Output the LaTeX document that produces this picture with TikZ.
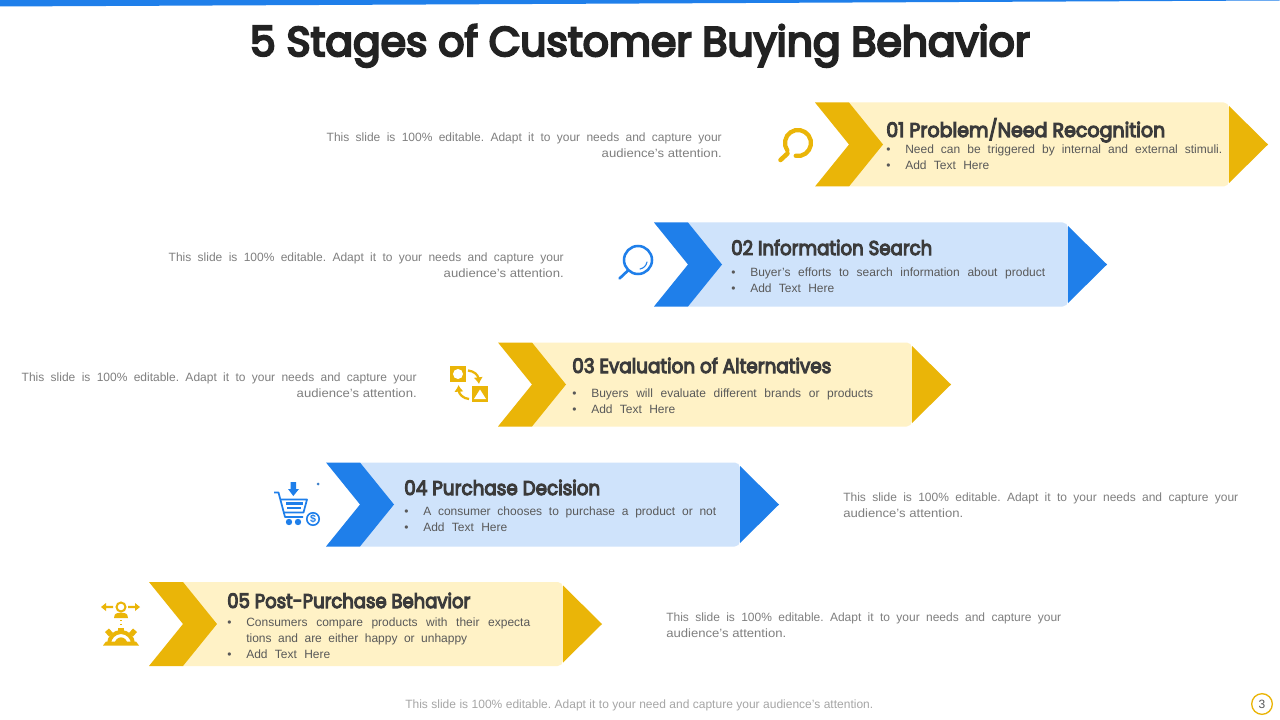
\documentclass[tikz,border=0pt]{standalone}
\usepackage{fontspec}
\usepackage{graphicx}
\setmainfont{Liberation Sans}
\newfontfamily\headfont[FakeBold=5.5]{Poppins}
\usetikzlibrary{arrows.meta}
\definecolor{ybr}{HTML}{EAB508}
\definecolor{ylt}{HTML}{FFF2C6}
\definecolor{bbr}{HTML}{1F7FEA}
\definecolor{blt}{HTML}{CFE3FB}
\definecolor{bodyc}{HTML}{595959}
\definecolor{sidec}{HTML}{7F7F7F}
\definecolor{headc}{HTML}{3B3B3B}
\definecolor{titlec}{HTML}{222222}
\definecolor{footc}{HTML}{A6A6A6}
\frenchspacing
\newcommand\jl[2]{\makebox[\dimexpr #1pt*3/4\relax][s]{#2}}
\newcommand\fitw[2]{\resizebox{\dimexpr #1pt*3/4\relax}{\height}{#2}}
\newcommand\stagebox[5]{% x0, top, rect right, strong, light
  \fill[#5] (#1+34,#2) [rounded corners=4] -- (#3,#2) -- (#3,#2+84) [sharp corners] -- (#1+34,#2+84) -- cycle;
  \fill[#4] (#1,#2) -- (#1+34,#2) -- (#1+68,#2+42) -- (#1+34,#2+84) -- (#1,#2+84) -- (#1+34,#2+42) -- cycle;
  \fill[#4] (#3,#2+3.5) -- (#3+39,#2+42) -- (#3,#2+80.5) -- cycle;
}
\tikzset{
  x=0.75pt,y=-0.75pt,
  headtxt/.style={anchor=base west,inner sep=0pt,text=headc,font=\headfont\fontsize{15}{18}\selectfont},
  bodytxt/.style={anchor=base west,inner sep=0pt,text=bodyc,font=\fontsize{9}{11}\selectfont},
  sidetxt/.style={inner sep=0pt,text=sidec,font=\fontsize{9}{11}\selectfont},
}
\begin{document}
\begin{tikzpicture}
\useasboundingbox (0,0) rectangle (1280,720);
\fill[white] (0,0) rectangle (1280,720);
\fill[bbr] (0,0) -- (1280,0) -- (1280,0.5) -- (0,6.5) -- cycle;
\node[anchor=base,inner sep=0pt,text=titlec,font=\headfont\fontsize{31}{36}\selectfont] (title) at (640,56) {\fitw{780}{5 Stages of Customer Buying Behavior}};

\stagebox{815}{102.5}{1229}{ybr}{ylt}
\stagebox{654}{222.5}{1068}{bbr}{blt}
\stagebox{498}{342.5}{912}{ybr}{ylt}
\stagebox{326}{462.5}{740}{bbr}{blt}
\stagebox{149}{582}{563}{ybr}{ylt}

% stage 1
\node[headtxt] (h1) at (886,137) {\fitw{279}{01 Problem/Need Recognition}};
\node[bodytxt] (b1a) at (886,154) {•};
\node[bodytxt] (t1a) at (905,154) {\jl{317}{Need can be triggered by internal and external stimuli.}};
\node[bodytxt] (b1b) at (886,170) {•};
\node[bodytxt] (t1b) at (905,170) {\jl{84}{Add Text Here}};
% stage 2
\node[headtxt] (h2) at (731,255) {\fitw{201}{02 Information Search}};
\node[bodytxt] (b2a) at (731,276) {•};
\node[bodytxt] (t2a) at (750,276) {\jl{295}{Buyer's efforts to search information about product}};
\node[bodytxt] (b2b) at (731,292) {•};
\node[bodytxt] (t2b) at (750,292) {\jl{84}{Add Text Here}};
% stage 3
\node[headtxt] (h3) at (572,373) {\fitw{259}{03 Evaluation of Alternatives}};
\node[bodytxt] (b3a) at (572,397) {•};
\node[bodytxt] (t3a) at (591,397) {\jl{282}{Buyers will evaluate different brands or products}};
\node[bodytxt] (b3b) at (572,413) {•};
\node[bodytxt] (t3b) at (591,413) {\jl{84}{Add Text Here}};
% stage 4
\node[headtxt] (h4) at (404,495) {\fitw{196}{04 Purchase Decision}};
\node[bodytxt] (b4a) at (404,515) {•};
\node[bodytxt] (t4a) at (423,515) {\jl{293}{A consumer chooses to purchase a product or not}};
\node[bodytxt] (b4b) at (404,531) {•};
\node[bodytxt] (t4b) at (423,531) {\jl{84}{Add Text Here}};
% stage 5
\node[headtxt] (h5) at (227,608) {\fitw{243}{05 Post-Purchase Behavior}};
\node[bodytxt] (b5a) at (227,626) {•};
\node[bodytxt] (t5a) at (246,626) {\jl{284}{Consumers compare products with their expecta}};
\node[bodytxt] (t5b) at (246,642) {\jl{221}{tions and are either happy or unhappy}};
\node[bodytxt] (b5c) at (227,658) {•};
\node[bodytxt] (t5c) at (246,658) {\jl{84}{Add Text Here}};

% side notes
\node[sidetxt,anchor=base east] (s1a) at (722,142) {\jl{395}{This slide is 100\% editable. Adapt it to your needs and capture your}};
\node[sidetxt,anchor=base east] (s1b) at (722,158) {\fitw{120}{audience's attention.}};
\node[sidetxt,anchor=base east] (s2a) at (564,261) {\jl{395}{This slide is 100\% editable. Adapt it to your needs and capture your}};
\node[sidetxt,anchor=base east] (s2b) at (564,277) {\fitw{120}{audience's attention.}};
\node[sidetxt,anchor=base east] (s3a) at (417,381) {\jl{395}{This slide is 100\% editable. Adapt it to your needs and capture your}};
\node[sidetxt,anchor=base east] (s3b) at (417,397) {\fitw{120}{audience's attention.}};
\node[sidetxt,anchor=base west] (s4a) at (843,501) {\jl{395}{This slide is 100\% editable. Adapt it to your needs and capture your}};
\node[sidetxt,anchor=base west] (s4b) at (843,517) {\fitw{120}{audience's attention.}};
\node[sidetxt,anchor=base west] (s5a) at (666,621) {\jl{395}{This slide is 100\% editable. Adapt it to your needs and capture your}};
\node[sidetxt,anchor=base west] (s5b) at (666,637) {\fitw{120}{audience's attention.}};

% footer
\node[anchor=base west,inner sep=0pt,text=footc,font=\fontsize{9}{11}\selectfont] (foot) at (405,708) {\jl{468}{This slide is 100\% editable. Adapt it to your need and capture your audience's attention.}};
\node[circle,draw=ybr,line width=1pt,fill=white,minimum size=15.5pt,inner sep=0pt,text=bodyc,font=\fontsize{9}{11}\selectfont] (pg) at (1262,704) {3};

% icon 1: magnifier
\draw[ybr,line width=3.2pt,line cap=round] (795.7,155.8) arc[start angle=100,end angle=-215,radius=13];
\draw[ybr,line width=3.4pt,line cap=round] (787.5,153.5) -- (780.5,160);
% icon 2: magnifier
\draw[bbr,line width=1.9pt] (638,260) circle[radius=14];
\draw[bbr,line width=2pt,line cap=round] (628,270.5) -- (619.5,278.5);
\draw[bbr,line width=0.8pt,line cap=round] (640,269) .. controls (644,268) and (646,266) .. (647,262);
% icon 3: exchange
\fill[ybr] (450,366) rectangle (466,382);
\fill[white] (458,374) circle[radius=5];
\fill[ybr] (472,386) rectangle (488,402);
\fill[white] (480,389.5) -- (486,399) -- (474,399) -- cycle;
\draw[ybr,line width=1.7pt,-{Latex[length=5pt,width=7pt]}] (468,370.5) .. controls (474,371) and (478,375) .. (479,384);
\draw[ybr,line width=1.7pt,-{Latex[length=5pt,width=7pt]}] (469,399) .. controls (463,398.5) and (459,394) .. (458.5,385);
% icon 4: cart
\draw[bbr,line width=1.3pt,line join=round] (274,492.5) -- (278.5,492.5) -- (285,517) -- (303,517);
\draw[bbr,line width=1.3pt,line join=round] (280,499.5) -- (307,499.5) -- (303.5,512.5) -- (283.5,512.5);
\draw[bbr,line width=1.6pt] (286,503.5) -- (303,503.5) (287,508) -- (301,508);
\fill[bbr] (290.5,482) rectangle (296,489) (288,489) -- (299,489) -- (293.3,496) -- cycle;
\fill[bbr] (289,522) circle[radius=3.2] (298,522) circle[radius=3.2];
\draw[bbr,line width=1.2pt,fill=white] (313,519) circle[radius=6.2];
\fill[bbr!70!gray] (318,484) circle[radius=1.5];
\node[inner sep=0pt,text=bbr,font=\fontsize{8}{8}\selectfont\bfseries] (dollar) at (313,519) {\$};
% icon 5: person and gear
\fill[ybr] (101,607) -- (106,603) -- (106,605.8) -- (113,605.8) -- (113,608.2) -- (106,608.2) -- (106,611) -- cycle;
\fill[ybr] (140,607) -- (135,603) -- (135,605.8) -- (128,605.8) -- (128,608.2) -- (135,608.2) -- (135,611) -- cycle;
\draw[ybr,line width=1.5pt] (121,607) circle[radius=4.5];
\fill[ybr] (114,618) .. controls (114,613) and (118,612.5) .. (121,612.5) .. controls (124,612.5) and (128,613) .. (128,618) -- cycle;
\draw[ybr,line width=1pt,dotted] (121,620) -- (121,627);
\draw[ybr,line width=3pt] (109,644) arc[start angle=180,end angle=360,radius=12];
\fill[ybr] (118,627.5) rectangle (124,633);
\fill[ybr] (105,632) -- (109,628.5) -- (113,633) -- (109,636.5) -- cycle;
\fill[ybr] (137,632) -- (133,628.5) -- (129,633) -- (133,636.5) -- cycle;
\fill[ybr] (103,645.5) -- (139,645.5) -- (136,641.5) -- (106,641.5) -- cycle;
\fill[ybr] (114.5,644.5) .. controls (115,635) and (127,635) .. (127.5,644.5) -- cycle;
\end{tikzpicture}
\end{document}
